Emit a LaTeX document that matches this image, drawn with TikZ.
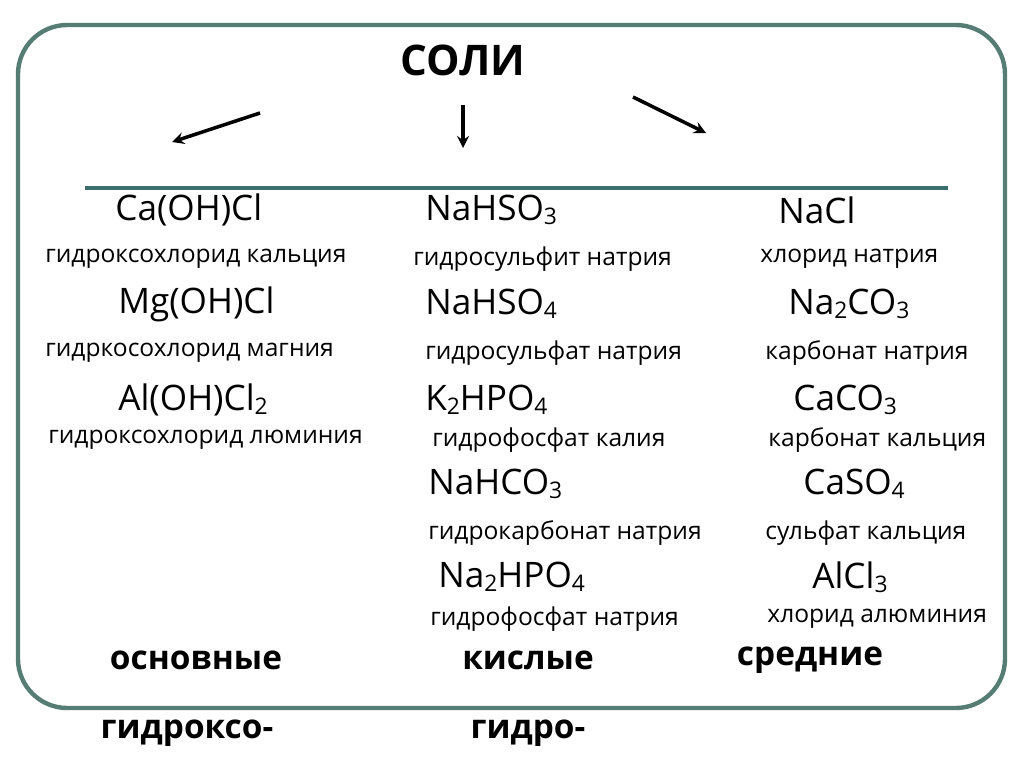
\documentclass[tikz,border=0pt]{standalone}
\usepackage{fontspec}
\setmainfont{Open Sans}
\usetikzlibrary{positioning,arrows}
\definecolor{frame}{RGB}{85,125,115}
\definecolor{rule}{RGB}{60,110,110}
\newcommand{\ix}[1]{\raisebox{-0.2ex}{\fontsize{13}{14}\selectfont #1}}
\tikzset{
  formula/.style={anchor=west,inner sep=0pt,font=\fontsize{20}{24}\selectfont},
  label/.style={anchor=west,inner sep=0pt,font=\fontsize{14}{16}\selectfont},
  head/.style={inner sep=0pt,font=\bfseries\fontsize{19}{22}\selectfont}
}
\begin{document}
\begin{tikzpicture}[x=0.02cm,y=-0.02cm]
           \useasboundingbox (0,0) rectangle (1024,767);
           \draw[frame,line width=2.5pt,rounded corners=28pt] (18,25) rectangle (1005,708); %рамка
           \draw[rule,line width=2pt] (85,188)--(948,188); %линия
           \node[inner sep=0pt,font=\bfseries\fontsize{24}{28}\selectfont] (soli) at (463,60) {СОЛИ};
           \draw[->,>=stealth,line width=2pt] (260,113)--(172,142);
           \draw[->,>=stealth,line width=2pt] (463,105)--(463,148);
           \draw[->,>=stealth,line width=2pt] (633,97)--(706,133);
           % основные
           \node[formula] (b1) at (115,210) {Ca(OH)Cl};
           \node[label] (b1n) at (45,259) {гидроксохлорид кальция};
           \node[formula] (b2) at (118,304) {Mg(OH)Cl};
           \node[label] (b2n) at (45,353) {гидркосохлорид магния};
           \node[formula] (b3) at (118,400) {Al(OH)Cl\ix{2}};
           \node[label] (b3n) at (48,440) {гидроксохлорид люминия};
           % кислые
           \node[formula] (a1) at (425,210) {NaHSO\ix{3}};
           \node[label] (a1n) at (413,259) {гидросульфит натрия};
           \node[formula] (a2) at (425,304) {NaHSO\ix{4}};
           \node[label] (a2n) at (425,353) {гидросульфат натрия};
           \node[formula] (a3) at (425,400) {K\ix{2}HPO\ix{4}};
           \node[label] (a3n) at (432,440) {гидрофосфат калия};
           \node[formula] (a4) at (428,484) {NaHCO\ix{3}};
           \node[label] (a4n) at (428,533) {гидрокарбонат натрия};
           \node[formula] (a5) at (438,577) {Na\ix{2}HPO\ix{4}};
           \node[label] (a5n) at (430,619) {гидрофосфат натрия};
           % средние
           \node[formula] (m1) at (778,210) {NaCl};
           \node[label] (m1n) at (760,259) {хлорид натрия};
           \node[formula] (m2) at (788,304) {Na\ix{2}CO\ix{3}};
           \node[label] (m2n) at (765,353) {карбонат натрия};
           \node[formula] (m3) at (793,400) {CaCO\ix{3}};
           \node[label] (m3n) at (768,440) {карбонат кальция};
           \node[formula] (m4) at (803,484) {CaSO\ix{4}};
           \node[label] (m4n) at (765,533) {сульфат кальция};
           \node[formula] (m5) at (812,577) {AlCl\ix{3}};
           \node[label] (m5n) at (767,619) {хлорид алюминия};
           % подписи
           \node[head] (basic) at (196,660) {основные};
           \node[head] (acid) at (528,660) {кислые};
           \node[head] (mid) at (810,660) {средние};
           \node[head] (hydroxo) at (187,733) {гидроксо-};
           \node[head] (hydro) at (528,733) {гидро-};
\end{tikzpicture}
\end{document}
